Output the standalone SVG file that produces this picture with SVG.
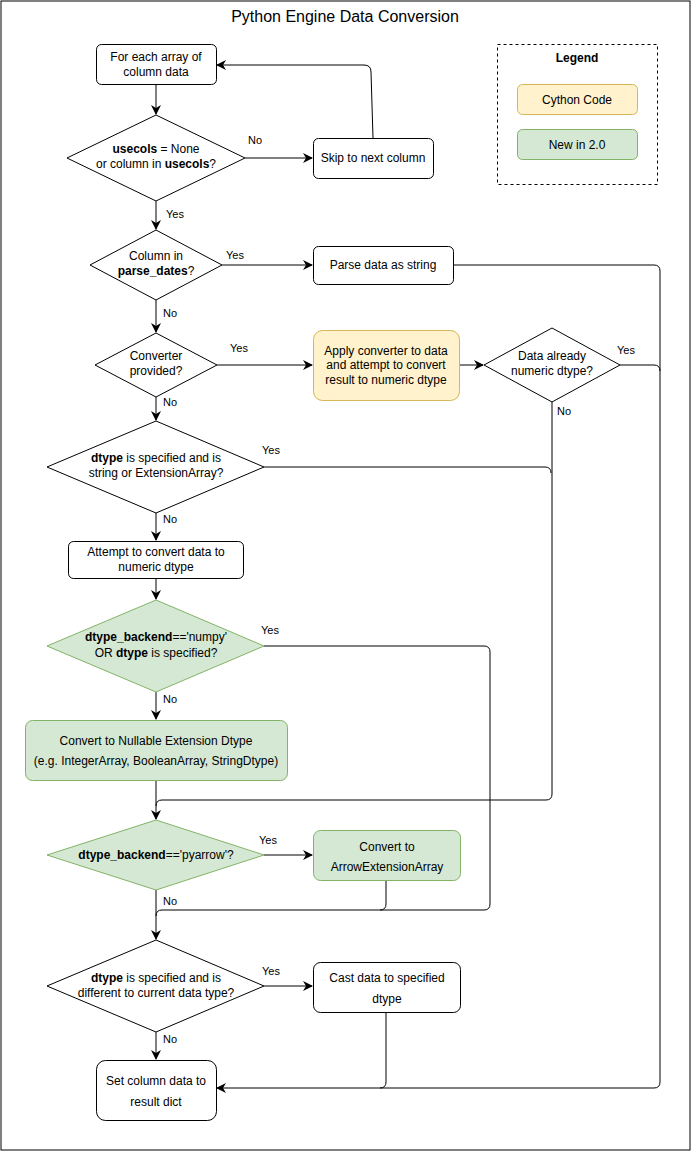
<svg xmlns="http://www.w3.org/2000/svg" width="691" height="1151" viewBox="0 0 691 1151">
<defs>
<marker id="arr" viewBox="0 0 10 10" refX="9" refY="5" markerWidth="10" markerHeight="10" markerUnits="userSpaceOnUse" orient="auto">
<path d="M0,0 L10,5 L0,10 L3,5 Z" fill="#000"/>
</marker>
</defs>
<style>
text{font-family:"Liberation Sans",Arial,sans-serif;font-size:12px;fill:#000;text-anchor:middle}
.t{font-size:16px}
.lbl{font-size:11px;text-anchor:start}
.b{font-weight:bold}
.box{fill:#fff;stroke:#000;stroke-width:1}
.y{fill:#fff2cc;stroke:#d6b656;stroke-width:1}
.g{fill:#d5e8d4;stroke:#82b366;stroke-width:1}
.c{fill:none;stroke:#000;stroke-width:1}
.ca{fill:none;stroke:#000;stroke-width:1;marker-end:url(#arr)}
</style>
<rect x="1" y="1" width="689" height="1149" fill="#fff" stroke="#000"/>
<text class="t" x="345" y="22">Python Engine Data Conversion</text>

<g id="legend">
<rect x="497.5" y="44.5" width="160" height="140" fill="none" stroke="#000" stroke-dasharray="3,3"/>
<text class="b" x="577" y="62">Legend</text>
<rect class="y" x="517.5" y="84.5" width="120" height="30" rx="5"/>
<text x="577" y="104">Cython Code</text>
<rect class="g" x="517.5" y="129.5" width="120" height="30" rx="5"/>
<text x="577" y="149">New in 2.0</text>
</g>

<g id="connectors">
<path class="ca" d="M156,84 L156,114"/>
<path class="ca" d="M245,158 L312,158"/>
<path class="ca" d="M373,138 L371,72 Q371,65 364,65 L217,65"/>
<path class="ca" d="M156,201 L156,229"/>
<path class="ca" d="M222,265 L312,265"/>
<path class="ca" d="M453,265 L654,265 Q660,265 660,271 L660,1082 Q660,1088 654,1088 L217,1088"/>
<path class="ca" d="M156,300 L156,332"/>
<path class="ca" d="M217,365 L312,365"/>
<path class="ca" d="M156,397 L156,420"/>
<path class="ca" d="M459,365 L483,365"/>
<path class="c" d="M620,365 L654,365 Q660,365 660,371"/>
<path class="c" d="M552,402 L552,794 Q552,800 546,800 L162,800"/>
<path class="c" d="M264,467 L545,467 Q551,467 551,473"/>
<path class="ca" d="M156,513 L156,540"/>
<path class="ca" d="M156,578 L156,599"/>
<path class="c" d="M264,646 L484,646 Q490,646 490,652 L490,904 Q490,910 484,910 L162,910"/>
<path class="ca" d="M156,692 L156,719"/>
<path class="ca" d="M156,780 L156,819"/>
<path class="c" d="M162,800 Q156,800 156,806"/>
<path class="ca" d="M264,855 L312,855"/>
<path class="c" d="M386,880 L386,904 Q386,910 380,910"/>
<path class="ca" d="M156,890 L156,939"/>
<path class="c" d="M162,910 Q156,910 156,916"/>
<path class="ca" d="M264,986 L312,986"/>
<path class="c" d="M386,1012 L386,1082 Q386,1088 380,1088"/>
<path class="ca" d="M156,1032 L156,1059"/>
<text class="lbl" x="248" y="144">No</text>
<text class="lbl" x="166" y="218">Yes</text>
<text class="lbl" x="226" y="259">Yes</text>
<text class="lbl" x="163" y="317">No</text>
<text class="lbl" x="230" y="352">Yes</text>
<text class="lbl" x="163" y="406">No</text>
<text class="lbl" x="617" y="354">Yes</text>
<text class="lbl" x="557" y="415">No</text>
<text class="lbl" x="262" y="454">Yes</text>
<text class="lbl" x="163" y="523">No</text>
<text class="lbl" x="261" y="634">Yes</text>
<text class="lbl" x="163" y="703">No</text>
<text class="lbl" x="259" y="844">Yes</text>
<text class="lbl" x="163" y="905">No</text>
<text class="lbl" x="262" y="975">Yes</text>
<text class="lbl" x="163" y="1043">No</text>
</g>

<g id="start">
<rect class="box" x="96.5" y="44.5" width="120" height="40" rx="5"/>
<text x="156" y="61">For each array of</text>
<text x="156" y="76">column data</text>
</g>
<g id="d_usecols">
<polygon class="box" points="156,115 245,158 156,201 67,158"/>
<text x="156" y="153"><tspan class="b">usecols</tspan> = None</text>
<text x="156" y="168">or column in <tspan class="b">usecols</tspan>?</text>
</g>
<g id="skip">
<rect class="box" x="313.5" y="138.5" width="120" height="40" rx="5"/>
<text x="373" y="162">Skip to next column</text>
</g>
<g id="d_parse_dates">
<polygon class="box" points="156,230 222,265 156,300 90,265"/>
<text x="156" y="260">Column in</text>
<text x="156" y="275"><tspan class="b">parse_dates</tspan>?</text>
</g>
<g id="parse_string">
<rect class="box" x="313.5" y="246.5" width="140" height="38" rx="5"/>
<text x="383" y="269">Parse data as string</text>
</g>
<g id="d_converter">
<polygon class="box" points="156,333 217,365 156,397 95,365"/>
<text x="156" y="360">Converter</text>
<text x="156" y="375">provided?</text>
</g>
<g id="apply_converter">
<rect class="y" x="313.5" y="330.5" width="146" height="70" rx="9"/>
<text x="386" y="355">Apply converter to data</text>
<text x="386" y="369">and attempt to convert</text>
<text x="386" y="384">result to numeric dtype</text>
</g>
<g id="d_numeric">
<polygon class="box" points="552,328 620,365 552,402 484,365"/>
<text x="552" y="360">Data already</text>
<text x="552" y="375">numeric dtype?</text>
</g>
<g id="d_dtype_string">
<polygon class="box" points="156,421 264,467 156,513 47,467"/>
<text x="156" y="462"><tspan class="b">dtype</tspan> is specified and is</text>
<text x="156" y="477">string or ExtensionArray?</text>
</g>
<g id="attempt_numeric">
<rect class="box" x="68.5" y="541.5" width="175" height="37" rx="5"/>
<text x="156" y="556">Attempt to convert data to</text>
<text x="156" y="571">numeric dtype</text>
</g>
<g id="d_numpy">
<polygon class="g" points="156,600 264,646 156,692 47,646"/>
<text x="156" y="641"><tspan class="b">dtype_backend</tspan>=='numpy'</text>
<text x="156" y="657">OR <tspan class="b">dtype</tspan> is specified?</text>
</g>
<g id="nullable">
<rect class="g" x="25.5" y="720.5" width="262" height="60" rx="7"/>
<text x="156" y="745">Convert to Nullable Extension Dtype</text>
<text x="156" y="765">(e.g. IntegerArray, BooleanArray, StringDtype)</text>
</g>
<g id="d_pyarrow">
<polygon class="g" points="156,820 264,855 156,890 47,855"/>
<text x="156" y="859"><tspan class="b">dtype_backend</tspan>=='pyarrow'?</text>
</g>
<g id="arrow_ext">
<rect class="g" x="313.5" y="830.5" width="147" height="50" rx="7"/>
<text x="387" y="851">Convert to</text>
<text x="387" y="871">ArrowExtensionArray</text>
</g>
<g id="d_cast">
<polygon class="box" points="156,940 264,986 156,1032 47,986"/>
<text x="156" y="982"><tspan class="b">dtype</tspan> is specified and is</text>
<text x="156" y="997">different to current data type?</text>
</g>
<g id="cast">
<rect class="box" x="313.5" y="962.5" width="147" height="50" rx="7"/>
<text x="387" y="982">Cast data to specified</text>
<text x="387" y="1003">dtype</text>
</g>
<g id="set_result">
<rect class="box" x="96.5" y="1060.5" width="120" height="60" rx="9"/>
<text x="156" y="1085">Set column data to</text>
<text x="156" y="1106">result dict</text>
</g>
</svg>
